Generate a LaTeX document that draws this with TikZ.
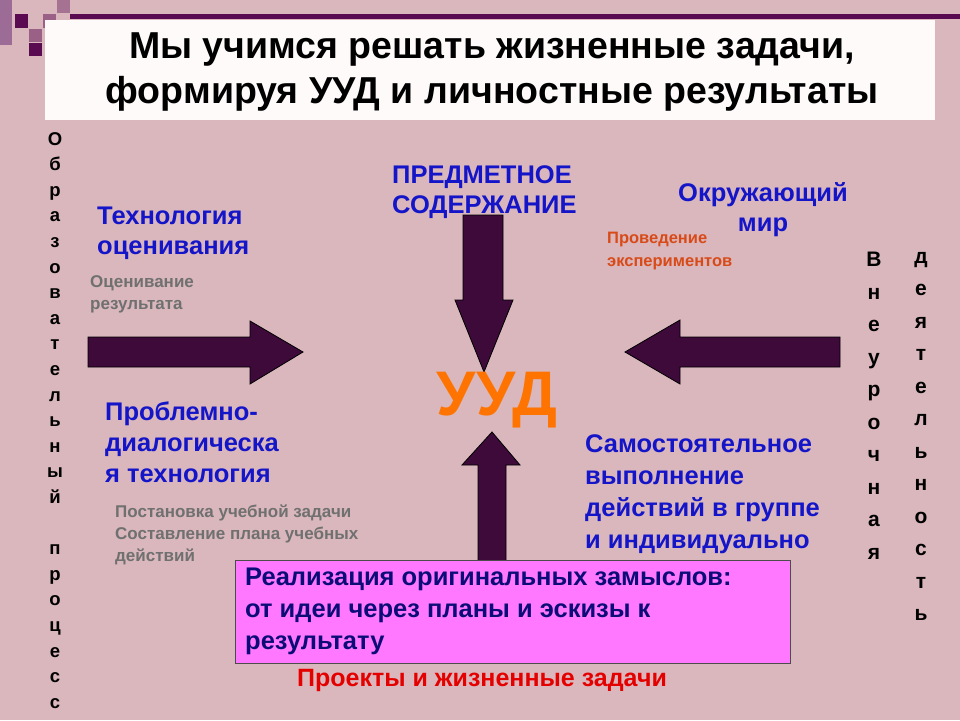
\documentclass[tikz,border=0pt]{standalone}
\usepackage{fontspec}
\setmainfont{Liberation Sans}
\definecolor{bg}{HTML}{D9B7BC}
\definecolor{arr}{HTML}{3D0A3A}
\definecolor{lbl}{HTML}{1414C8}
\definecolor{gr}{HTML}{707070}
\definecolor{orng}{HTML}{D84A18}
\definecolor{mag}{HTML}{FF78FF}
\definecolor{dpur}{HTML}{5A0A50}
\begin{document}
\begin{tikzpicture}[x=1pt,y=-1pt,
  blk/.style={fill=arr,draw=black,line width=0.8pt},
  lab/.style={text=lbl,font=\bfseries\fontsize{25.5}{30}\selectfont,align=left,anchor=north west,inner sep=0},
  sm/.style={text=gr,font=\bfseries\fontsize{17}{22}\selectfont,align=left,anchor=north west,inner sep=0},
  vt/.style={font=\bfseries\fontsize{21}{32.5}\selectfont,align=center,anchor=north,inner sep=0}]
\fill[bg] (0,0) rectangle (960,720);
\useasboundingbox (0,0) rectangle (960,720);
% decoration
\fill[dpur] (70,14) rectangle (960,19);
\fill[dpur!60!white] (0,0) rectangle (12,45);
\fill[dpur] (15,14) rectangle (28,28);
\fill[dpur!50!bg] (29,29) rectangle (42,42);
\fill[dpur] (29,43) rectangle (42,56);
\fill[dpur!50!bg] (43,14) rectangle (56,28);
\fill[dpur!40!bg] (57,0) rectangle (70,13);
\node[fill=white!92!pink,minimum width=890,minimum height=100,inner sep=0] (title) at (490,70) {};
\node[font=\bfseries\fontsize{37.5}{45}\selectfont,align=center] (tt) at (492,72) {Мы учимся решать жизненные задачи,\\формируя УУД и личностные результаты};
% arrows
\draw[blk] (88,337) -- (250,337) -- (250,321) -- (303,352) -- (250,384) -- (250,367) -- (88,367) -- cycle;
\draw[blk] (463,215) -- (503,215) -- (503,300) -- (513,300) -- (484,372) -- (455,300) -- (463,300) -- cycle;
\draw[blk] (840,337) -- (680,337) -- (680,320) -- (625,352) -- (680,384) -- (680,367) -- (840,367) -- cycle;
\draw[blk] (478,565) -- (478,465) -- (462,465) -- (492,432) -- (520,465) -- (506,465) -- (506,565) -- cycle;
\node[text=orange!90!red,font=\bfseries\fontsize{63}{66}\selectfont] (uud) at (497,400) {УУД};
% labels
\node[lab] (pred) at (392,165) {ПРЕДМЕТНОЕ\\СОДЕРЖАНИЕ};
\node[lab,align=center,anchor=north] (okr) at (763,182) {Окружающий\\мир};
\node[text=orng,font=\bfseries\fontsize{16.5}{23}\selectfont,align=left,anchor=north west,inner sep=0] (prov) at (607,232) {Проведение\\экспериментов};
\node[lab] (tech) at (97,207) {Технология\\оценивания};
\node[sm] (oc) at (90,275) {Оценивание\\результата};
\node[lab,font=\bfseries\fontsize{25.5}{31}\selectfont] (prob) at (105,402) {Проблемно-\\диалогическа\\я технология};
\node[sm] (post) at (115,505) {Постановка учебной задачи\\Составление плана учебных\\действий};
\node[lab,font=\bfseries\fontsize{25.5}{32}\selectfont] (sam) at (585,434) {Самостоятельное\\выполнение\\действий в группе\\и  индивидуально};
\node[fill=mag,draw=black!70,minimum width=555,minimum height=103,inner sep=0,anchor=north west] (box) at (235,560) {};
\node[text=lbl!60!black,font=\bfseries\fontsize{25.5}{32}\selectfont,align=left,anchor=north west,inner sep=0] (real) at (245,568) {Реализация оригинальных замыслов:\\от идеи через планы и эскизы к\\результату};
\node[text=red!90!black,font=\bfseries\fontsize{25}{28}\selectfont] (proj) at (482,680) {Проекты и жизненные задачи};
% vertical texts
\node[vt,font=\bfseries\fontsize{18.5}{25.6}\selectfont] (obr) at (55,132) {О\\б\\р\\а\\з\\о\\в\\а\\т\\е\\л\\ь\\н\\ы\\й\\ \\п\\р\\о\\ц\\е\\с\\с};
\node[vt] (vne) at (874,252) {В\\н\\е\\у\\р\\о\\ч\\н\\а\\я};
\node[vt] (dey) at (921,252) {д\\е\\я\\т\\е\\л\\ь\\н\\о\\с\\т\\ь};
\end{tikzpicture}
\end{document}
